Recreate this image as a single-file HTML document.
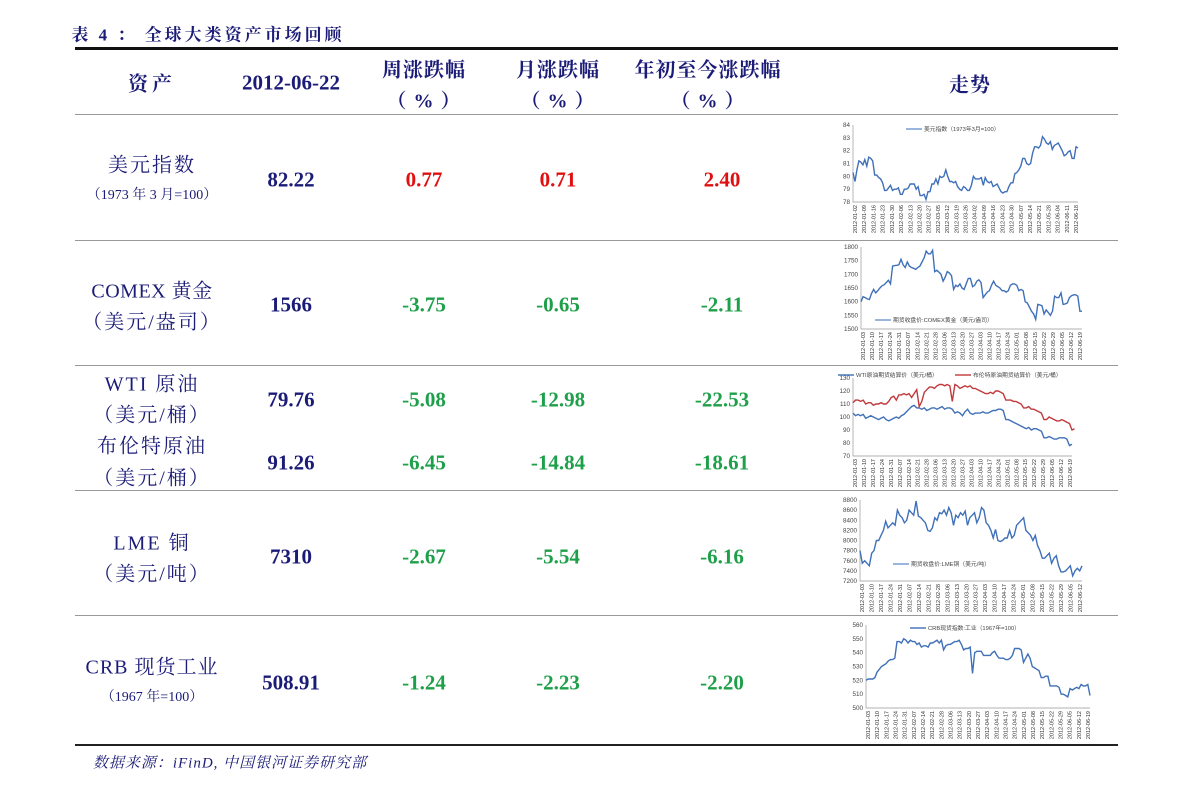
<!DOCTYPE html>
<html><head><meta charset="utf-8">
<style>
body{margin:0;background:#fff;width:1191px;height:789px;overflow:hidden;position:relative;font-family:"Liberation Serif","Noto Serif CJK SC",serif;}
.t{position:absolute;white-space:nowrap;transform:translate(-50%,-50%);color:#1b1b78;}
.b{font-weight:bold;font-size:21px;}
.h{font-size:20px;font-weight:bold;letter-spacing:1px;}
.n{font-size:20px;letter-spacing:2px;}
.s{font-size:14px;}
.red{color:#e01010}.grn{color:#1ea04a}
.line{position:absolute;left:75px;width:1043px;}
svg text{font-family:"Liberation Sans","Noto Sans CJK SC",sans-serif;}
</style></head><body>
<div class="t" style="left:208px;top:33px;font-weight:bold;font-size:17px;letter-spacing:3px">表 4 ：  全球大类资产市场回顾</div>
<div class="line" style="top:47px;height:3px;background:#111"></div>
<div class="line" style="top:114px;height:1px;background:#999"></div>
<div class="line" style="top:240px;height:1px;background:#999"></div>
<div class="line" style="top:365px;height:1px;background:#999"></div>
<div class="line" style="top:490px;height:1px;background:#999"></div>
<div class="line" style="top:615px;height:1px;background:#999"></div>
<div class="line" style="top:744px;height:2px;background:#222"></div>

<div class="t h" style="left:152px;top:82px;letter-spacing:4px">资产</div>
<div class="t b" style="left:291px;top:83px">2012-06-22</div>
<div class="t h" style="left:424px;top:68px">周涨跌幅</div>
<div class="t h" style="left:424px;top:99px">（ % ）</div>
<div class="t h" style="left:558px;top:68px">月涨跌幅</div>
<div class="t h" style="left:558px;top:99px">（ % ）</div>
<div class="t h" style="left:708px;top:68px">年初至今涨跌幅</div>
<div class="t h" style="left:708px;top:99px">（ % ）</div>
<div class="t h" style="left:970px;top:83px">走势</div>

<div class="t n" style="left:152px;top:163px">美元指数</div>
<div class="t s" style="left:152px;top:194px">（1973 年 3 月=100）</div>
<div class="t b" style="left:291px;top:180px">82.22</div>
<div class="t b red" style="left:424px;top:180px">0.77</div>
<div class="t b red" style="left:558px;top:180px">0.71</div>
<div class="t b red" style="left:722px;top:180px">2.40</div>

<div class="t n" style="left:152px;top:289px;letter-spacing:0.5px">COMEX 黄金</div>
<div class="t n" style="left:152px;top:320px">（美元/盎司）</div>
<div class="t b" style="left:291px;top:305px">1566</div>
<div class="t b grn" style="left:424px;top:305px">-3.75</div>
<div class="t b grn" style="left:558px;top:305px">-0.65</div>
<div class="t b grn" style="left:722px;top:305px">-2.11</div>

<div class="t n" style="left:152px;top:382px">WTI 原油</div>
<div class="t n" style="left:152px;top:413px">（美元/桶）</div>
<div class="t n" style="left:152px;top:444px">布伦特原油</div>
<div class="t n" style="left:152px;top:476px">（美元/桶）</div>
<div class="t b" style="left:291px;top:400px">79.76</div>
<div class="t b grn" style="left:424px;top:400px">-5.08</div>
<div class="t b grn" style="left:558px;top:400px">-12.98</div>
<div class="t b grn" style="left:722px;top:400px">-22.53</div>
<div class="t b" style="left:291px;top:463px">91.26</div>
<div class="t b grn" style="left:424px;top:463px">-6.45</div>
<div class="t b grn" style="left:558px;top:463px">-14.84</div>
<div class="t b grn" style="left:722px;top:463px">-18.61</div>

<div class="t n" style="left:152px;top:541px">LME 铜</div>
<div class="t n" style="left:152px;top:572px">（美元/吨）</div>
<div class="t b" style="left:291px;top:557px">7310</div>
<div class="t b grn" style="left:424px;top:557px">-2.67</div>
<div class="t b grn" style="left:558px;top:557px">-5.54</div>
<div class="t b grn" style="left:722px;top:557px">-6.16</div>

<div class="t n" style="left:152px;top:665px;letter-spacing:1px">CRB 现货工业</div>
<div class="t s" style="left:152px;top:696px">（1967 年=100）</div>
<div class="t b" style="left:291px;top:683px">508.91</div>
<div class="t b grn" style="left:424px;top:683px">-1.24</div>
<div class="t b grn" style="left:558px;top:683px">-2.23</div>
<div class="t b grn" style="left:722px;top:683px">-2.20</div>

<div class="t" style="left:230px;top:762px;font-style:italic;font-size:15px;letter-spacing:1px">数据来源：iFinD, 中国银河证券研究部</div>

<svg id="charts" width="1191" height="789" style="position:absolute;left:0;top:0"></svg>
<script>
const usdVals=[80.3,79.6,80.5,81.2,81.1,80.9,81.3,80.8,81.5,81.4,81.2,80.1,80.1,79.9,79.8,79.5,78.9,78.9,79.1,79.3,78.9,79.0,79.0,79.1,78.6,78.6,79.0,79.0,79.1,79.4,79.4,79.4,79.0,79.2,78.5,78.5,78.6,78.2,78.8,78.8,79.4,79.4,79.8,79.4,80.0,79.9,80.0,80.5,80.0,79.6,79.6,79.5,79.6,79.2,79.0,78.9,79.2,79.1,78.9,78.9,79.3,80.0,79.8,79.8,79.8,79.9,79.3,79.9,79.6,79.5,79.6,79.2,79.3,79.4,79.1,78.8,78.7,78.8,78.8,79.2,79.5,79.5,80.2,80.3,80.5,80.8,81.4,81.4,81.0,80.9,81.0,81.8,82.3,82.3,82.2,82.4,83.1,82.9,82.6,82.5,82.7,82.1,82.4,82.5,82.6,82.3,82.0,81.6,81.7,81.9,82.0,81.4,81.4,82.3,82.2];
const usdDates=["2012-01-02","2012-01-09","2012-01-16","2012-01-23","2012-01-30","2012-02-06","2012-02-13","2012-02-20","2012-02-27","2012-03-05","2012-03-12","2012-03-19","2012-03-26","2012-04-02","2012-04-09","2012-04-16","2012-04-23","2012-04-30","2012-05-07","2012-05-14","2012-05-21","2012-05-28","2012-06-04","2012-06-11","2012-06-18"];
const usdTicks=[78,79,80,81,82,83,84];
const goldVals=[1600,1618,1615,1610,1608,1630,1645,1632,1640,1650,1658,1662,1670,1678,1665,1730,1732,1733,1735,1755,1735,1725,1745,1730,1725,1722,1718,1725,1730,1745,1760,1785,1775,1775,1788,1710,1715,1708,1700,1675,1690,1710,1705,1695,1645,1660,1655,1665,1650,1645,1665,1685,1685,1655,1660,1675,1680,1670,1615,1625,1635,1640,1660,1675,1660,1655,1650,1640,1640,1635,1640,1660,1665,1665,1660,1640,1645,1640,1600,1595,1580,1565,1555,1535,1590,1588,1585,1555,1570,1560,1550,1565,1620,1615,1615,1632,1590,1592,1595,1615,1622,1625,1625,1620,1565,1565];
const goldDates=["2012-01-03","2012-01-10","2012-01-17","2012-01-24","2012-01-31","2012-02-07","2012-02-14","2012-02-21","2012-02-28","2012-03-06","2012-03-13","2012-03-20","2012-03-27","2012-04-03","2012-04-10","2012-04-17","2012-04-24","2012-05-01","2012-05-08","2012-05-15","2012-05-22","2012-05-29","2012-06-05","2012-06-12","2012-06-19"];
const goldTicks=[1500,1550,1600,1650,1700,1750,1800];
const wtiVals=[103,101,102,101,102,99,100,101,100,99,98,99,100,98,97,98,99,100,99,101,102,104,106,108,109,107,107,106,107,105,106,107,107,106,107,108,106,107,107,106,103,104,103,101,104,106,103,102,103,103,103,104,103,103,104,105,105,106,106,105,98,98,97,96,95,94,93,92,91,92,90,91,91,90,89,84,84,85,84,83,83,84,84,84,83,78,79];
const brentVals=[111,113,113,112,113,110,111,111,109,110,110,111,110,110,112,115,116,113,117,117,118,117,118,115,118,121,108,112,119,121,123,123,122,124,125,125,124,125,124,112,125,124,122,123,124,123,124,122,122,121,120,119,118,118,119,118,120,120,119,118,113,113,113,112,112,111,110,107,107,108,106,106,105,104,103,98,98,100,99,98,97,97,98,97,96,95,90,91];
const oilDates=["2012-01-03","2012-01-10","2012-01-17","2012-01-24","2012-01-31","2012-02-07","2012-02-14","2012-02-21","2012-02-28","2012-03-06","2012-03-13","2012-03-20","2012-03-27","2012-04-03","2012-04-10","2012-04-17","2012-04-24","2012-05-01","2012-05-08","2012-05-15","2012-05-22","2012-05-29","2012-06-05","2012-06-12","2012-06-19"];
const oilTicks=[70,80,90,100,110,120,130];
const copperVals=[7800,7550,7600,7550,7500,7750,7800,8000,8000,8100,8200,8380,8250,8300,8350,8300,8600,8500,8450,8350,8400,8600,8550,8500,8780,8480,8450,8400,8350,8200,8180,8250,8450,8400,8550,8530,8600,8500,8650,8550,8300,8500,8450,8550,8500,8580,8300,8450,8500,8550,8350,8450,8650,8600,8350,8300,8200,8050,8220,8000,7980,8000,8050,8050,8200,8050,8100,8300,8350,8400,8450,8200,8150,8100,8000,8100,7900,7800,7650,7650,7700,7750,7550,7650,7700,7500,7380,7380,7400,7450,7500,7300,7400,7450,7400,7500];
const copperDates=["2012-01-03","2012-01-10","2012-01-17","2012-01-24","2012-01-31","2012-02-07","2012-02-14","2012-02-21","2012-02-28","2012-03-06","2012-03-13","2012-03-20","2012-03-27","2012-04-03","2012-04-10","2012-04-17","2012-04-24","2012-05-01","2012-05-08","2012-05-15","2012-05-22","2012-05-29","2012-06-05","2012-06-12"];
const copperTicks=[7200,7400,7600,7800,8000,8200,8400,8600,8800];
const crbVals=[520,521,521,521,522,526,528,530,531,532,534,535,535,536,548,548,547,550,549,547,549,548,548,546,547,544,545,545,544,547,547,548,549,547,549,542,545,546,546,547,548,548,549,546,542,543,543,544,525,540,541,541,541,538,538,538,538,540,541,538,536,536,536,535,535,536,538,543,543,543,542,533,536,539,536,530,529,528,527,522,522,523,523,516,516,516,516,515,510,510,509,508,514,513,514,515,514,517,516,516,517,509];
const crbDates=oilDates;
const crbTicks=[500,510,520,530,540,550,560];

const svg=document.getElementById('charts');
const NS='http://www.w3.org/2000/svg';
function mk(tag,attrs,parent){const e=document.createElementNS(NS,tag);for(const k in attrs)e.setAttribute(k,attrs[k]);(parent||svg).appendChild(e);return e;}
function chart(name,x0,x1,yTop,yBot,ticks,dates,series,legends){
  const g=mk('g',{});
  
  
  const lo=ticks[0],hi=ticks[ticks.length-1];
  const yS=v=>yBot-(v-lo)/(hi-lo)*(yBot-yTop);
  const ax=mk('path',{d:`M${x0},${yTop}V${yBot}H${x1}`,stroke:'#999','stroke-width':0.7,fill:'none'},g);
  
  
  ticks.forEach(t=>{const tx=mk('text',{x:x0-3,y:yS(t)+2,'font-size':6.3,'text-anchor':'end',fill:'#444'},g);tx.textContent=t;
    
    });
  const n=series[0].vals.length;
  const xS=i=>x0+i/(n-1)*(x1-x0);
  dates.forEach((d,i)=>{const xx=x0+i/(dates.length-1)*(x1-x0-4)+2;const tx=mk('text',{transform:`translate(${xx+2},${yBot+3}) rotate(-90)`,'font-size':5.5,'text-anchor':'end',fill:'#333'},g);tx.textContent=d;
    
    });
  series.forEach(s=>{const p=mk('polyline',{points:s.vals.map((v,i)=>xS(i).toFixed(1)+','+yS(v).toFixed(1)).join(' '),fill:'none',stroke:s.color,'stroke-width':1.4},g);
    
    });
  legends.forEach(l=>{mk('line',{x1:l.x,y1:l.y,x2:l.x+16,y2:l.y,stroke:l.color,'stroke-width':1.4},g);
    const tx=mk('text',{x:l.x+18,y:l.y+2,'font-size':5.8,fill:'#444'},g);tx.textContent=l.text;
    
    });
}
const blue='#3f70b8',red='#c0393b';
chart('usd',853,1078,125,202,usdTicks,usdDates,[{name:'usd',vals:usdVals,color:blue}],[{x:906,y:129,color:'#6f96d0',text:'美元指数（1973年3月=100）'}]);
chart('gold',861,1082,247,329,goldTicks,goldDates,[{name:'gold',vals:goldVals,color:blue}],[{x:875,y:320,color:'#6f96d0',text:'期货收盘价:COMEX黄金（美元/盎司）'}]);
chart('oil',853,1072,378,456,oilTicks,oilDates,[{name:'wti',vals:wtiVals,color:blue},{name:'brent',vals:brentVals,color:red}],[{x:838,y:375,color:blue,text:'WTI原油期货结算价（美元/桶）'},{x:955,y:375,color:red,text:'布伦特原油期货结算价（美元/桶）'}]);
chart('copper',860,1082,500,581,copperTicks,copperDates,[{name:'copper',vals:copperVals,color:blue}],[{x:893,y:564,color:'#6f96d0',text:'期货收盘价:LME铜（美元/吨）'}]);
chart('crb',866,1090,625,708,crbTicks,crbDates,[{name:'crb',vals:crbVals,color:blue}],[{x:910,y:628,color:blue,text:'CRB现货指数:工业（1967年=100）'}]);
</script>
</body></html>
